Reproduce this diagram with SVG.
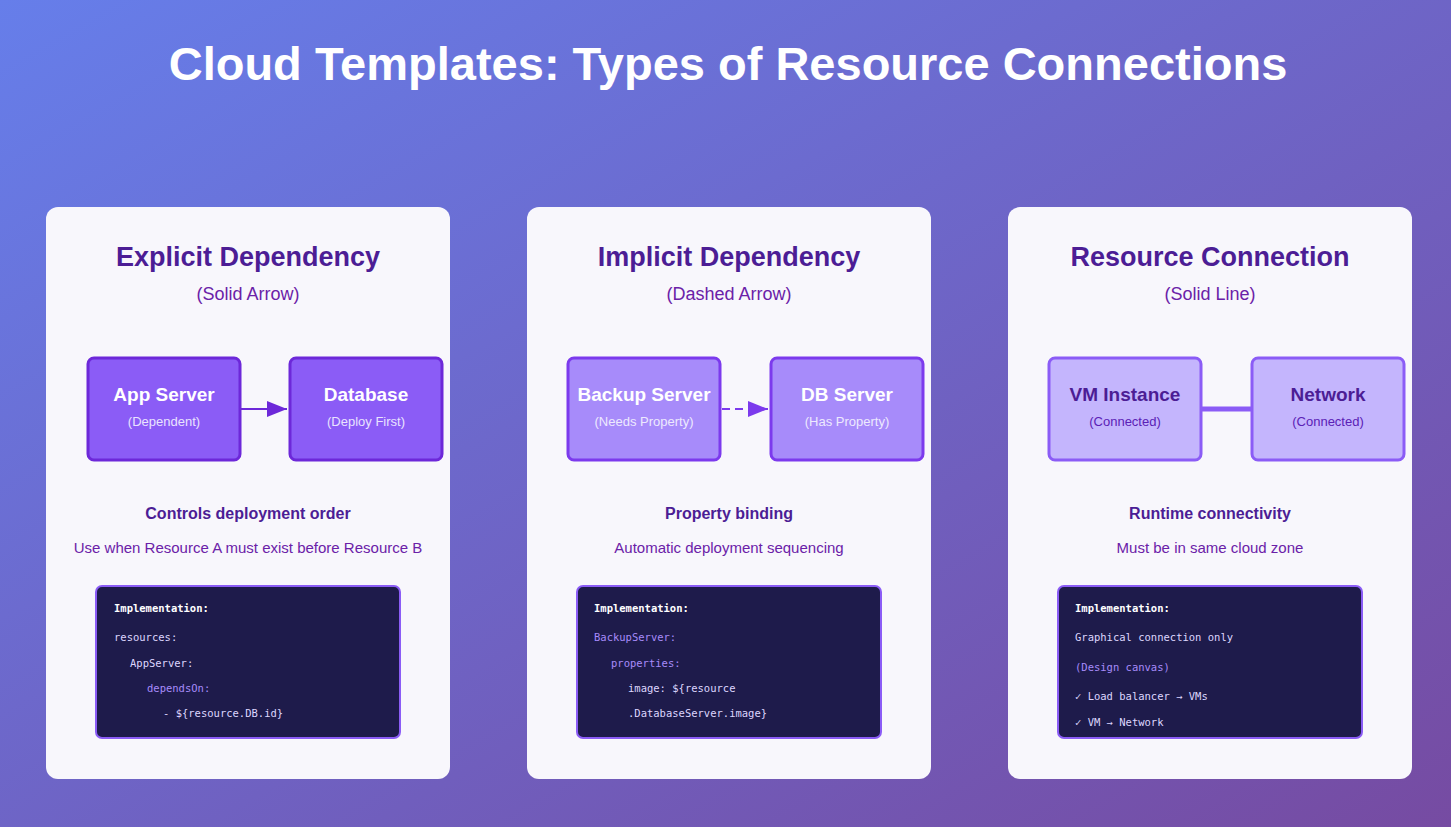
<svg xmlns="http://www.w3.org/2000/svg" width="1451" height="827" viewBox="0 0 1451 827">
<defs>
<linearGradient id="bg" x1="0" y1="0" x2="1" y2="1"><stop offset="0" stop-color="#667eea"/><stop offset="1" stop-color="#764ba2"/></linearGradient>
<marker id="ah1" viewBox="0 0 20 16" refX="20" refY="8" markerWidth="20" markerHeight="16" orient="auto" markerUnits="userSpaceOnUse"><path d="M0,0L20,8L0,16z" fill="#6d28d9"/></marker>
<marker id="ah2" viewBox="0 0 20 16" refX="20" refY="8" markerWidth="20" markerHeight="16" orient="auto" markerUnits="userSpaceOnUse"><path d="M0,0L20,8L0,16z" fill="#7c3aed"/></marker>
</defs>
<style>
text{font-family:"Liberation Sans",Arial,sans-serif}
.card{fill:#f8f7fc}
.h{font-size:27px;font-weight:bold;fill:#4c1d95;text-anchor:middle}
.sub{font-size:18px;fill:#6b21a8;text-anchor:middle}
.nt{font-size:19px;font-weight:bold;text-anchor:middle}
.ns{font-size:13px;text-anchor:middle}
.d{font-size:16px;font-weight:bold;fill:#4c1d95;text-anchor:middle}
.dd{font-size:15px;fill:#6b21a8;text-anchor:middle}
.code{fill:#1e1b4b;stroke:#8b5cf6;stroke-width:2}
.c{font-family:"DejaVu Sans Mono",monospace;font-size:10.5px;fill:#ddd6fe}
.ci{font-family:"DejaVu Sans Mono",monospace;font-size:10.5px;font-weight:bold;fill:#ffffff}
.cp{font-family:"DejaVu Sans Mono",monospace;font-size:10.5px;fill:#a78bfa}
.n1{fill:#8b5cf6;stroke:#6d28d9;stroke-width:3}
.n2{fill:#a78bfa;stroke:#7c3aed;stroke-width:3}
.n3{fill:#c4b5fd;stroke:#8b5cf6;stroke-width:3}
</style>
<rect width="1451" height="827" fill="url(#bg)"/>
<text x="728" y="80" text-anchor="middle" font-size="47" font-weight="bold" fill="#ffffff">Cloud Templates: Types of Resource Connections</text>

<g id="card-explicit">
<rect class="card" x="46" y="207" width="404" height="572" rx="12"/>
<text class="h" x="248" y="266">Explicit Dependency</text>
<text class="sub" x="248" y="300">(Solid Arrow)</text>
<text class="d" x="248" y="519">Controls deployment order</text>
<text class="dd" x="248" y="553">Use when Resource A must exist before Resource B</text>
<rect class="code" x="96" y="586" width="304" height="152" rx="6"/>
<text class="ci" x="114" y="612">Implementation:</text>
<text class="c" x="114" y="641">resources:</text>
<text class="c" x="130" y="667">AppServer:</text>
<text class="cp" x="147" y="692">dependsOn:</text>
<text class="c" x="163" y="717">- ${resource.DB.id}</text>
</g>
<g id="node-appserver"><rect class="n1" x="88" y="358" width="152" height="102" rx="6"/>
<text class="nt" x="164" y="401" fill="#fff">App Server</text><text class="ns" x="164" y="426" fill="#e9e3ff">(Dependent)</text></g>
<g id="node-database"><rect class="n1" x="290" y="358" width="152" height="102" rx="6"/>
<text class="nt" x="366" y="401" fill="#fff">Database</text><text class="ns" x="366" y="426" fill="#e9e3ff">(Deploy First)</text></g>

<g id="card-implicit">
<rect class="card" x="527" y="207" width="404" height="572" rx="12"/>
<text class="h" x="729" y="266">Implicit Dependency</text>
<text class="sub" x="729" y="300">(Dashed Arrow)</text>
<text class="d" x="729" y="519">Property binding</text>
<text class="dd" x="729" y="553">Automatic deployment sequencing</text>
<rect class="code" x="577" y="586" width="304" height="152" rx="6"/>
<text class="ci" x="594" y="612">Implementation:</text>
<text class="cp" x="594" y="641">BackupServer:</text>
<text class="cp" x="611" y="667">properties:</text>
<text class="c" x="628" y="692">image: ${resource</text>
<text class="c" x="628" y="717">.DatabaseServer.image}</text>
</g>
<g id="node-backup"><rect class="n2" x="568" y="358" width="152" height="102" rx="6"/>
<text class="nt" x="644" y="401" fill="#fff">Backup Server</text><text class="ns" x="644" y="426" fill="#ede9fe">(Needs Property)</text></g>
<g id="node-dbserver"><rect class="n2" x="771" y="358" width="152" height="102" rx="6"/>
<text class="nt" x="847" y="401" fill="#fff">DB Server</text><text class="ns" x="847" y="426" fill="#ede9fe">(Has Property)</text></g>

<g id="card-connection">
<rect class="card" x="1008" y="207" width="404" height="572" rx="12"/>
<text class="h" x="1210" y="266">Resource Connection</text>
<text class="sub" x="1210" y="300">(Solid Line)</text>
<text class="d" x="1210" y="519">Runtime connectivity</text>
<text class="dd" x="1210" y="553">Must be in same cloud zone</text>
<rect class="code" x="1058" y="586" width="304" height="152" rx="6"/>
<text class="ci" x="1075" y="612">Implementation:</text>
<text class="c" x="1075" y="641">Graphical connection only</text>
<text class="cp" x="1075" y="671">(Design canvas)</text>
<text class="c" x="1075" y="700">✓ Load balancer → VMs</text>
<text class="c" x="1075" y="726">✓ VM → Network</text>
</g>
<g id="node-vm"><rect class="n3" x="1049" y="358" width="152" height="102" rx="6"/>
<text class="nt" x="1125" y="401" fill="#4c1d95">VM Instance</text><text class="ns" x="1125" y="426" fill="#5b21b6">(Connected)</text></g>
<g id="node-network"><rect class="n3" x="1252" y="358" width="152" height="102" rx="6"/>
<text class="nt" x="1328" y="401" fill="#4c1d95">Network</text><text class="ns" x="1328" y="426" fill="#5b21b6">(Connected)</text></g>

<g id="connectors">
<line x1="241" y1="409" x2="287" y2="409" stroke="#6d28d9" stroke-width="2" marker-end="url(#ah1)"/>
<line x1="722" y1="409" x2="768" y2="409" stroke="#7c3aed" stroke-width="2" stroke-dasharray="8,5" marker-end="url(#ah2)"/>
<line x1="1202" y1="409" x2="1251" y2="409" stroke="#8b5cf6" stroke-width="5"/>
</g>
</svg>
